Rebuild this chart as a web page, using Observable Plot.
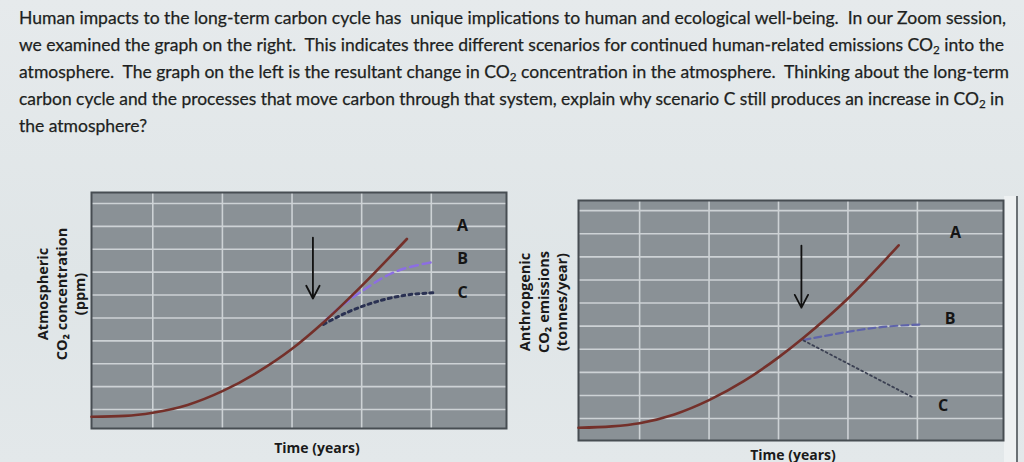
<!DOCTYPE html>
<html>
<head>
<meta charset="utf-8">
<script src="https://cdn.jsdelivr.net/npm/d3@7"></script>
<script src="https://cdn.jsdelivr.net/npm/@observablehq/plot@0.6"></script>
<style>
  html, body { margin: 0; padding: 0; }
  body { width: 1024px; height: 462px; overflow: hidden; position: relative;
         background: linear-gradient(180deg, #e6eaec 0%, #dfe5e7 60%, #e3e8ea 100%);
         font-family: Lato, "Open Sans", sans-serif; }
  .q { position: absolute; left: 19px; white-space: nowrap; font-size: 18px; line-height: 22px;
       color: #1d1f21; transform-origin: 0 50%; -webkit-text-stroke: 0.25px #1d1f21; }
  .q sub { font-size: 12px; vertical-align: -3px; line-height: 0; }
  .ylab { position: absolute; white-space: nowrap; font-family: "Open Sans", sans-serif; font-weight: 700;
          font-size: 14.5px; line-height: 18.5px; color: #1a1a1a; text-align: center;
          transform: translate(-50%, -50%) rotate(-90deg); }
  .xlab { position: absolute; white-space: nowrap; font-family: "Open Sans", sans-serif; font-weight: 700;
          font-size: 14px; color: #1a1a1a; transform: translate(-50%, -50%); }
  .chart { position: absolute; }
  .edge { position: absolute; left: 1016px; top: 196px; width: 2px; height: 266px; background: #6b7175; }
  .strip { position: absolute; left: 1004px; top: 196px; width: 12px; height: 266px; background: #eef1f2; }
</style>
</head>
<body>
<div class="q" data-w="987" style="top:6px">Human impacts to the long-term carbon cycle has&nbsp; unique implications to human and ecological well-being.&nbsp; In our Zoom session,</div>
<div class="q" data-w="985" style="top:33px">we examined the graph on the right.&nbsp; This indicates three different scenarios for continued human-related emissions CO<sub>2</sub> into the</div>
<div class="q" data-w="990" style="top:60px">atmosphere.&nbsp; The graph on the left is the resultant change in CO<sub>2</sub> concentration in the atmosphere.&nbsp; Thinking about the long-term</div>
<div class="q" data-w="985" style="top:87px">carbon cycle and the processes that move carbon through that system, explain why scenario C still produces an increase in CO<sub>2</sub> in</div>
<div class="q" data-w="128" style="top:114px">the atmosphere?</div>

<div class="strip"></div>
<div class="edge"></div>

<div id="left" class="chart" style="left:91px; top:192px"></div>
<div id="right" class="chart" style="left:578px; top:200px"></div>

<div class="ylab" style="left:62px; top:294px">Atmospheric<br>CO₂ concentration<br>(ppm)</div>
<div class="ylab" style="left:544px; top:302px">Anthropgenic<br>CO₂ emissions<br>(tonnes/year)</div>
<div class="xlab" style="left:317px; top:447px">Time (years)</div>
<div class="xlab" style="left:793px; top:454px">Time (years)</div>

<script>
// ---- grid ticks (unlabelled) ----
const timeTicks = [1, 2, 3, 4, 5];
const levelTicks = [1, 2, 3, 4, 5, 6, 7, 8, 9, 10];

// ---- left chart: atmospheric CO2 concentration ----
const concTimeA = [0.12, 0.6, 1.0, 1.5, 2.0, 2.5, 3.0, 3.45, 4.0, 4.65];
const concA     = [0.68, 0.72, 0.86, 1.2, 1.8, 2.62, 3.65, 4.8, 6.4, 8.45];
const concTimeB = [3.45, 3.7, 4.02, 4.3, 4.51, 4.8, 5.03];
const concB     = [4.8, 5.5, 6.2, 6.75, 7.05, 7.3, 7.45];
const concTimeC = [3.45, 3.79, 4.27, 4.6, 5.03];
const concC     = [4.72, 5.24, 5.76, 5.98, 6.1];
const concArrow = {t: 3.30, from: 8.51, to: 5.85};
const concLabels = ["A", "B", "C"];
const concLabelT = [5.45, 5.45, 5.45];
const concLabelV = [9.03, 7.6, 6.1];

// ---- right chart: anthropogenic CO2 emissions ----
const emisTimeA = [0.12, 0.6, 1.0, 1.5, 2.0, 2.5, 3.0, 3.36, 4.0, 4.73];
const emisA     = [0.6, 0.66, 0.8, 1.18, 1.8, 2.62, 3.65, 4.5, 6.2, 8.5];
const emisTimeB = [3.36, 3.93, 4.42, 5.04];
const emisB     = [4.4, 4.72, 4.94, 5.07];
const emisTimeC = [3.36, 4.94];
const emisC     = [4.38, 1.91];
const emisArrow = {t: 3.33, from: 8.49, to: 5.8};
const emisLabels = ["A", "B", "C"];
const emisLabelT = [5.55, 5.47, 5.37];
const emisLabelV = [9.05, 5.33, 1.56];

const zip = (ts, vs) => ts.map((t, i) => ({t, v: vs[i]}));
const labelRows = (ls, ts, vs) => ls.map((s, i) => ({s, t: ts[i], v: vs[i]}));

function chart({w, h, xd, yd, A, B, C, arrow, labels, colB, wB, dashB, colC, wC, dashC}) {
  return Plot.plot({
    width: w, height: h, margin: 0,
    style: {background: "transparent", fontFamily: "'Open Sans', sans-serif", overflow: "visible"},
    x: {domain: xd, axis: null},
    y: {domain: yd, axis: null},
    marks: [
      Plot.frame({fill: "#8a9196"}),
      Plot.gridX(timeTicks, {stroke: "#cdd2d5", strokeOpacity: 1, strokeWidth: 1.6}),
      Plot.gridY(levelTicks, {stroke: "#cdd2d5", strokeOpacity: 1, strokeWidth: 1.6}),
      Plot.frame({stroke: "#474d52", strokeWidth: 2}),
      Plot.line(B, {x: "t", y: "v", curve: "monotone-x", stroke: colB, strokeWidth: wB, strokeDasharray: dashB}),
      Plot.line(C, {x: "t", y: "v", curve: "monotone-x", stroke: colC, strokeWidth: wC, strokeDasharray: dashC}),
      Plot.line(A, {x: "t", y: "v", curve: "monotone-x", stroke: "#74302a", strokeWidth: 2.6}),
      Plot.arrow([arrow], {x1: "t", x2: "t", y1: "from", y2: "to", stroke: "#111", strokeWidth: 1.8, headLength: 12, headAngle: 55}),
      Plot.text(labels, {x: "t", y: "v", text: "s", fontWeight: "bold", fontSize: 16, fill: "#151515"})
    ]
  });
}

document.getElementById("left").append(chart({
  w: 415, h: 236, xd: [0.12, 6.08], yd: [0.17, 10.48],
  A: zip(concTimeA, concA), B: zip(concTimeB, concB), C: zip(concTimeC, concC),
  arrow: concArrow, labels: labelRows(concLabels, concLabelT, concLabelV),
  colB: "#8c6ee2", wB: 2.5, dashB: "8,5", colC: "#2a3152", wC: 3, dashC: "3,4"
}));

document.getElementById("right").append(chart({
  w: 425, h: 240, xd: [0.12, 6.24], yd: [0.05, 10.44],
  A: zip(emisTimeA, emisA), B: zip(emisTimeB, emisB), C: zip(emisTimeC, emisC),
  arrow: emisArrow, labels: labelRows(emisLabels, emisLabelT, emisLabelV),
  colB: "#5f64aa", wB: 2.2, dashB: "7,4", colC: "#3b4052", wC: 1.8, dashC: "2,3"
}));

// fit each line of the question text to the width it occupies in the photo
document.querySelectorAll(".q").forEach(el => {
  const target = +el.dataset.w;
  const w = el.getBoundingClientRect().width;
  if (w > 0) el.style.transform = `scaleX(${target / w})`;
});
</script>
</body>
</html>
